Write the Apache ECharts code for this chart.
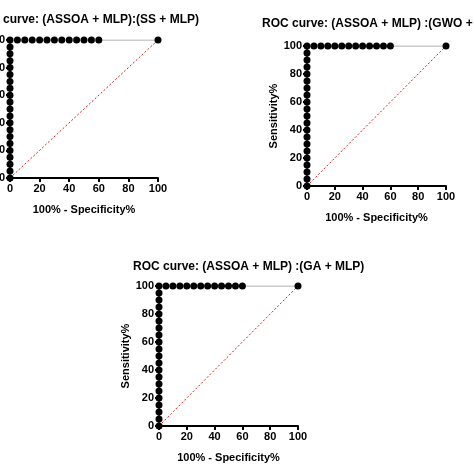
<!DOCTYPE html>
<html><head><meta charset="utf-8">
<script src="https://cdn.jsdelivr.net/npm/echarts@6/dist/echarts.min.js"></script>
<style>html,body{margin:0;background:#fff}#c{width:474px;height:474px}</style>
</head><body><div id="c"></div>
<script>
// ROC points: vertical climb along x=0, then across the top
var rocX = [0,0,0,0,0,0,0,0,0,0,0,0,0,0,0,0,0,0,0,0,0,5,10,15,20,25,30,35,40,45,50,55,60,100];
var rocY = [0,5,10,15,20,25,30,35,40,45,50,55,60,65,70,75,80,85,90,95,100,100,100,100,100,100,100,100,100,100,100,100,100,100];
var diagX = [0,100];
var diagY = [0,100];
var titles = ['ROC curve: (ASSOA + MLP):(SS + MLP)', 'ROC curve: (ASSOA + MLP) :(GWO + MLP)', 'ROC curve: (ASSOA + MLP) :(GA + MLP)'];

var grids = [
  {left: 10, top: 40, width: 148, height: 138, outerBoundsMode: 'none'},
  {left: 307, top: 46, width: 139, height: 140, outerBoundsMode: 'none'},
  {left: 159, top: 286, width: 139, height: 140, outerBoundsMode: 'none'}
];
var titlePos = [[-32, 18], [257, 22], [128, 265]];
var chart = echarts.init(document.getElementById('c'));
var font = 'Arial, Liberation Sans, sans-serif';
var opt = {grid: [], xAxis: [], yAxis: [], series: [], title: [], animation: false};
grids.forEach(function (g, i) {
  opt.grid.push(g);
  var axisCommon = {
    type: 'value', min: 0, max: 100, interval: 20, gridIndex: i,
    splitLine: {show: false},
    axisLine: {onZero: false, lineStyle: {color: '#000', width: 2}},
    axisTick: {length: 4, lineStyle: {color: '#000', width: 2}},
    axisLabel: {color: '#000', fontWeight: 'bold', fontSize: 11, fontFamily: font, margin: 5},
    nameTextStyle: {color: '#000', fontWeight: 'bold', fontSize: 11, fontFamily: font}
  };
  opt.xAxis.push(Object.assign({}, axisCommon, {name: '100% - Specificity%', nameLocation: 'middle', nameGap: 26}));
  opt.yAxis.push(Object.assign({}, axisCommon, {name: i === 0 ? '' : 'Sensitivity%', nameLocation: 'middle', nameGap: 28}));
  opt.series.push({
    type: 'line', xAxisIndex: i, yAxisIndex: i,
    data: diagX.map(function (x, k) { return [x, diagY[k]]; }),
    symbol: 'none', lineStyle: {color: '#d62020', type: [2, 2], width: 1}
  });
  opt.series.push({
    type: 'line', xAxisIndex: i, yAxisIndex: i,
    data: rocX.map(function (x, k) { return [x, rocY[k]]; }),
    symbol: 'circle', symbolSize: 7, itemStyle: {color: '#000'},
    lineStyle: {color: '#999', width: 1}
  });
  opt.title.push({
    text: titles[i], left: titlePos[i][0], top: titlePos[i][1] - 9,
    textStyle: {color: '#000', fontWeight: 'bold', fontSize: 12, fontFamily: font}
  });
});
chart.setOption(opt);
</script></body></html>
